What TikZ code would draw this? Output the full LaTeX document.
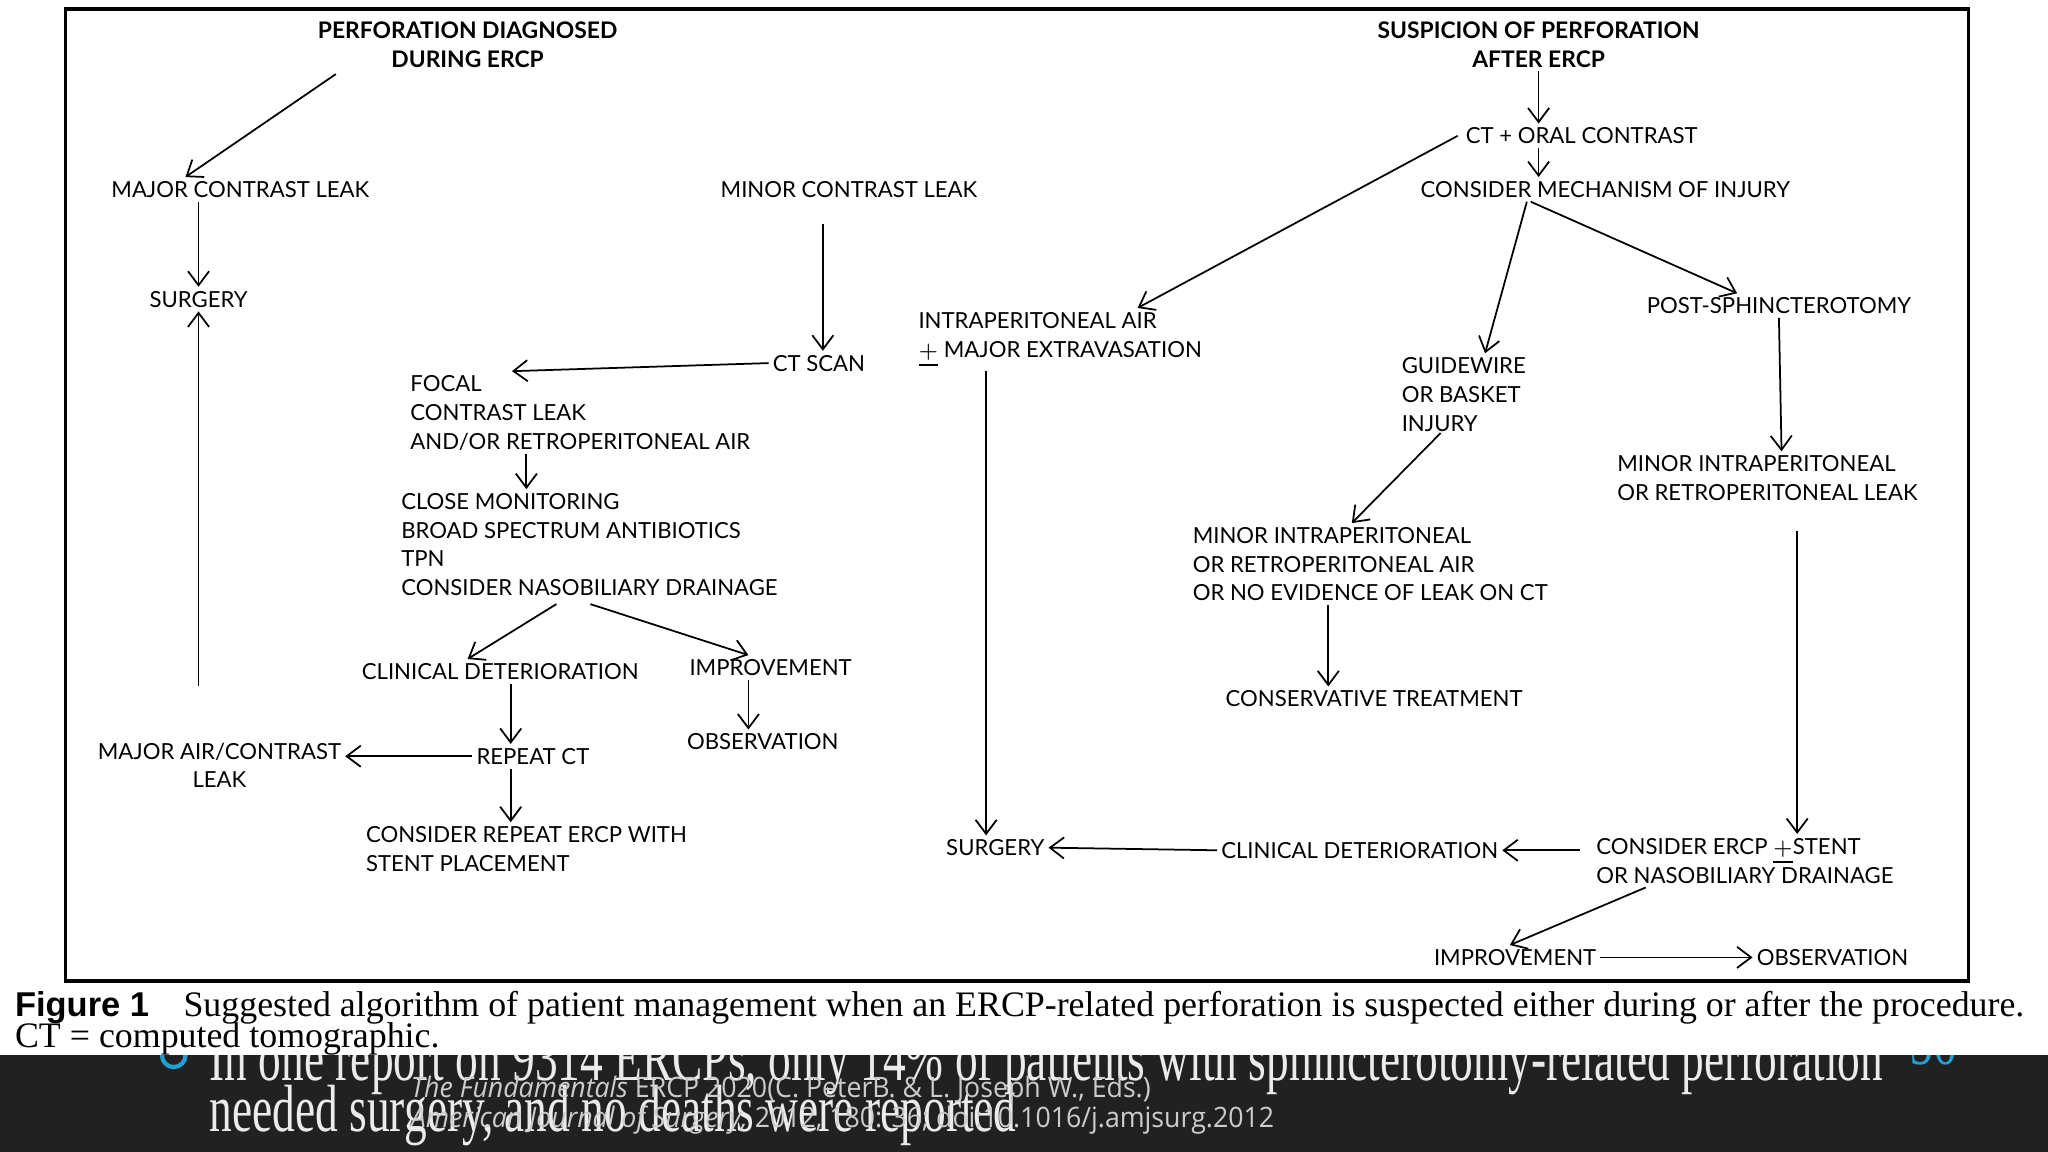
\documentclass[tikz,border=0pt]{standalone}
\usepackage{fontspec}
\setmainfont{Liberation Serif}
\newfontfamily\flowfont{Lato}
\newfontfamily\notefont{Open Sans}[FakeStretch=0.95]
\newfontfamily\slidefont{Liberation Serif}[FakeStretch=0.68]
\usetikzlibrary{arrows.meta}

\tikzset{
  box/.style={font=\flowfont\fontsize{6.3}{8.2}\selectfont, inner sep=1pt},
  lbox/.style={box, anchor=west, align=left},
  cbox/.style={box, align=center},
  arr/.style={-{Straight Barb[length=4pt,width=6pt]}, line width=0.5pt}
}

\begin{document}
\begin{tikzpicture}[x=0.013061cm, y=-0.013061cm]
        \useasboundingbox (0,0) rectangle (1568,882);
        \fill[white] (0,0) rectangle (1568,808);
        \draw[line width=1pt] (50,7) rectangle (1507,751);

        % left branch
        \node[cbox, font=\flowfont\bfseries\fontsize{6.5}{8.2}\selectfont] (pdTitle) at (358,34) {PERFORATION DIAGNOSED\\DURING ERCP};
        \node[box] (major) at (184,145) {MAJOR CONTRAST LEAK};
        \node[box] (minor) at (650,145) {MINOR CONTRAST LEAK};
        \node[box] (surgL) at (152,229) {SURGERY};
        \node[box] (ctscan) at (627,278) {CT SCAN};
        \node[lbox] (focal) at (311,316) {FOCAL\\CONTRAST LEAK\\AND/OR RETROPERITONEAL AIR};
        \node[lbox] (close) at (304,417) {CLOSE MONITORING\\BROAD SPECTRUM ANTIBIOTICS\\TPN\\CONSIDER NASOBILIARY DRAINAGE};
        \node[box] (clin) at (383,514) {CLINICAL DETERIORATION};
        \node[box] (impr) at (590,511) {IMPROVEMENT};
        \node[box] (obs) at (584,568) {OBSERVATION};
        \node[box] (repeat) at (408,579) {REPEAT CT};
        \node[cbox] (majAir) at (168,586) {MAJOR AIR/CONTRAST\\LEAK};
        \node[lbox] (consRep) at (277,650) {CONSIDER REPEAT ERCP WITH\\STENT PLACEMENT};

        \draw[arr] (pdTitle.south west) ++(17,2) -- (major.north west -| 142,129);
        \draw[arr] (major.south -| surgL) -- (surgL);
        \draw[arr] (majAir.north -| surgL) ++(0,-40) -- (surgL);
        \draw[arr] (minor.south -| 630,0) ++(0,17) -- (ctscan.north -| 630,0);
        \draw[arr] (ctscan.west) -- (focal.north west -| 392,292);
        \draw[arr] (focal.south west -| 403,0) -- (close.north west -| 403,0);
        \draw[arr] (close.south west -| 426,0) ++(0,3) -- (clin.north west -| 358,0);
        \draw[arr] (close.south west -| 452,0) ++(0,3) -- (impr.north -| 573,0);
        \draw[arr] (clin.south -| 391,0) -- (repeat.north -| 391,0);
        \draw[arr] (impr.south -| 573,0) -- (obs.north -| 573,0);
        \draw[arr] (repeat.west) -- (majAir.east |- repeat.west);
        \draw[arr] (repeat.south -| 391,0) -- (consRep.north -| 391,0);

        % right branch
        \node[cbox, font=\flowfont\bfseries\fontsize{6.5}{8.2}\selectfont] (spTitle) at (1178,34) {SUSPICION OF PERFORATION\\AFTER ERCP};
        \node[box] (ct) at (1211,104) {CT + ORAL CONTRAST};
        \node[box] (mech) at (1229,145) {CONSIDER MECHANISM OF INJURY};
        \node[lbox] (intra) at (700,260) {INTRAPERITONEAL AIR\\$\underline{+}$ MAJOR EXTRAVASATION};
        \node[box] (post) at (1362,234) {POST-SPHINCTEROTOMY};
        \node[lbox] (guide) at (1070,302) {GUIDEWIRE\\OR BASKET\\INJURY};
        \node[lbox] (minorIP) at (1235,366) {MINOR INTRAPERITONEAL\\OR RETROPERITONEAL LEAK};
        \node[lbox] (minorIA) at (910,432) {MINOR INTRAPERITONEAL\\OR RETROPERITONEAL AIR\\OR NO EVIDENCE OF LEAK ON CT};
        \node[box] (cons) at (1052,535) {CONSERVATIVE TREATMENT};
        \node[box] (surgR) at (762,649) {SURGERY};
        \node[box] (clinR) at (1041,651) {CLINICAL DETERIORATION};
        \node[lbox] (ercp) at (1219,659) {CONSIDER ERCP $\underline{+}$STENT\\OR NASOBILIARY DRAINAGE};
        \node[box] (imprR) at (1160,733) {IMPROVEMENT};
        \node[box] (obsR) at (1403,733) {OBSERVATION};

        \draw[arr] (spTitle.south -| 1178,0) -- (ct.north -| 1178,0);
        \draw[arr] (ct.south -| 1178,0) -- (mech.north -| 1178,0);
        \draw[arr] (ct.west) ++(-3,0) -- (intra.north east -| 871,235);
        \draw[arr] (mech.south -| 1169,0) -- (guide.north -| 1137,0);
        \draw[arr] (mech.south -| 1172,0) -- (post.north west -| 1330,218);
        \draw[arr] (post.south -| 1362,0) -- (minorIP.north -| 1364,0);
        \draw[arr] (intra.south west -| 755,0) -- (surgR.north -| 755,0);
        \draw[arr] (guide.south -| 1103,0) ++(0,-2) -- (minorIA.north -| 1035,0);
        \draw[arr] (minorIA.south -| 1017,0) -- (cons.north -| 1017,0);
        \draw[arr] (minorIP.south -| 1376,0) ++(0,20) -- (ercp.north -| 1376,0);
        \draw[arr] (ercp.west |- clinR.east) ++(-9,0) -- (clinR.east);
        \draw[arr] (clinR.west) -- (surgR.east);
        \draw[arr] (ercp.south west -| 1260,0) -- (imprR.north -| 1156,0);
        \draw[arr] (imprR.east) -- (obsR.west);

        % caption
        \node[anchor=base west, inner sep=0pt, font=\fontspec{Liberation Sans}\bfseries\fontsize{9.8}{11}\selectfont] (figLbl) at (11,778) {Figure 1};
        \node[anchor=base west, inner sep=0pt, font=\fontsize{10.2}{11}\selectfont] (capText) at (140,778) {Suggested algorithm of patient management when an ERCP-related perforation is suspected either during or after the procedure.};
        \node[anchor=base west, inner sep=0pt, font=\fontsize{10.2}{11}\selectfont] (capCT) at (11,802) {CT = computed tomographic.};

        % slide strip
        \begin{scope}
          \clip (0,808) rectangle (1568,882);
          \fill[black!87] (0,808) rectangle (1568,882);
          \draw[cyan!70!teal, line width=1.2pt] (133,808) circle (9);
          \node[anchor=base west, inner sep=0pt, text=white!92!black, font=\slidefont\fontsize{19}{20}\selectfont] (bullet1) at (160,827) {In one report on 9314 ERCPs, only 14\% of patients with sphincterotomy-related perforation};
          \node[anchor=base west, inner sep=0pt, text=white!92!black, font=\slidefont\fontsize{19}{20}\selectfont] (bullet2) at (160,866) {needed surgery, and no deaths were reported};
          \node[anchor=base west, inner sep=0pt, text=white!80!black, font=\notefont\fontsize{8}{10}\selectfont] (ref1) at (314,840) {\itshape The Fundamentals \upshape ERCP 2020(C. PeterB. \& L. Joseph W., Eds.)};
          \node[anchor=base west, inner sep=0pt, text=white!80!black, font=\notefont\fontsize{8}{10}\selectfont] (ref2) at (314,863) {\itshape American Journal of Surgery, \upshape 2012, 180: 36; doi:10.1016/j.amjsurg.2012};
          \node[anchor=base, inner sep=0pt, text=cyan!70!teal, font=\slidefont\fontsize{19}{20}\selectfont] (pgNum) at (1480,815) {36};
        \end{scope}
    \end{tikzpicture}
\end{document}
